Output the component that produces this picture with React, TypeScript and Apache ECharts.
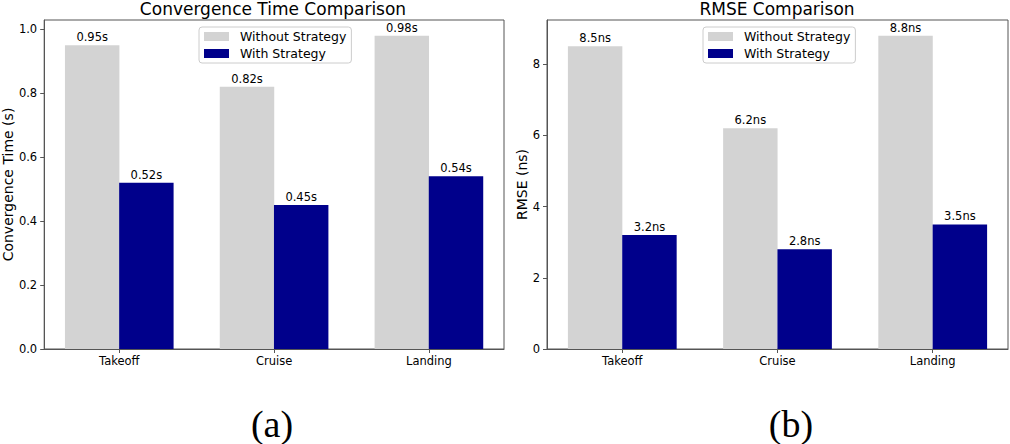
import React, { useEffect, useRef } from 'react';
import * as echarts from 'echarts';

const phases = ['Takeoff', 'Cruise', 'Landing'];
const seriesNames = ['Without Strategy', 'With Strategy'];

const convWithout = [0.95, 0.82, 0.98];
const convWith = [0.52, 0.45, 0.54];
const rmseWithout = [8.5, 6.2, 8.8];
const rmseWith = [3.2, 2.8, 3.5];

const convTicks = [0, 0.2, 0.4, 0.6, 0.8, 1.0];
const rmseTicks = [0, 2, 4, 6, 8];
const phasePositions = [0, 1, 2];

const GRAY = '#D3D3D3';
const BLUE = '#00008B';
const SPINE = '#555';
const FONT = 'DejaVu Sans';
const BAR = 0.35;
const X_MIN = -0.485;
const X_MAX = 2.485;

const App: React.FC = () => {
  const chartRef = useRef<HTMLDivElement>(null);

  useEffect(() => {
    document.body.style.margin = '0';
    if (!chartRef.current) return;
    const chart = echarts.init(chartRef.current, null, { renderer: 'svg' });

    const grids = [
      { left: 42, top: 20, width: 462, height: 329 },
      { left: 547, top: 20, width: 461, height: 329 }
    ];
    const barWidth = (462 * BAR) / (X_MAX - X_MIN);

    const xAxis = grids.map((_, i) => ({
      type: 'value',
      gridIndex: i,
      min: X_MIN,
      max: X_MAX,
      splitLine: { show: false },
      axisLine: { show: true, onZero: false, lineStyle: { color: SPINE, width: 1 } },
      axisTick: { show: true, length: 4, customValues: phasePositions, lineStyle: { color: SPINE } },
      axisLabel: {
        customValues: phasePositions,
        formatter: (v: number) => phases[Math.round(v)],
        color: '#000',
        fontFamily: FONT,
        fontSize: 11.5,
        margin: 6
      }
    }));

    const yCommon = {
      type: 'value',
      min: 0,
      nameLocation: 'middle',
      nameTextStyle: { color: '#000', fontFamily: FONT, fontSize: 14 },
      splitLine: { show: false },
      axisLine: { show: true, onZero: false, lineStyle: { color: SPINE, width: 1 } },
      axisTick: { show: true, length: 4, lineStyle: { color: SPINE } }
    };

    const yAxis = [
      {
        ...yCommon,
        gridIndex: 0,
        max: Math.max(...convWithout, ...convWith) * 1.05,
        name: 'Convergence Time (s)',
        nameGap: 28,
        axisTick: { ...yCommon.axisTick, customValues: convTicks },
        axisLabel: {
          customValues: convTicks,
          formatter: (v: number) => v.toFixed(1),
          color: '#000',
          fontFamily: FONT,
          fontSize: 11.5,
          margin: 7
        }
      },
      {
        ...yCommon,
        gridIndex: 1,
        max: Math.max(...rmseWithout, ...rmseWith) * 1.05,
        name: 'RMSE (ns)',
        nameGap: 17,
        axisTick: { ...yCommon.axisTick, customValues: rmseTicks },
        axisLabel: {
          customValues: rmseTicks,
          formatter: (v: number) => String(v),
          color: '#000',
          fontFamily: FONT,
          fontSize: 11.5,
          margin: 7
        }
      }
    ];

    const makeBar = (name: string, values: number[], offset: number, color: string, unit: string, gi: number) => ({
      name,
      type: 'bar',
      xAxisIndex: gi,
      yAxisIndex: gi,
      barWidth,
      barGap: '-100%',
      itemStyle: { color },
      data: values.map((v, i) => [i + offset, v]),
      label: {
        show: true,
        position: 'top',
        distance: 2,
        color: '#000',
        fontFamily: FONT,
        fontSize: 11.5,
        formatter: (p: any) => `${p.value[1]}${unit}`
      }
    });

    const legendBase = {
      orient: 'vertical',
      top: 27,
      padding: [3, 5, 3, 5],
      itemWidth: 25,
      itemHeight: 9,
      itemGap: 4,
      icon: 'rect',
      borderColor: '#ccc',
      borderWidth: 1,
      borderRadius: 3,
      backgroundColor: 'rgba(255,255,255,0.8)',
      data: seriesNames,
      textStyle: { color: '#000', fontFamily: FONT, fontSize: 12.5, padding: [0, 0, 0, 6] }
    };

    const titleStyle = { color: '#000', fontFamily: FONT, fontSize: 17, fontWeight: 'normal' };

    const option = {
      animation: false,
      backgroundColor: '#fff',
      title: [
        { text: 'Convergence Time Comparison', left: 273, top: 0, padding: 0, textAlign: 'center', textStyle: titleStyle },
        { text: 'RMSE Comparison', left: 777, top: 0, padding: 0, textAlign: 'center', textStyle: titleStyle }
      ],
      legend: [
        { ...legendBase, left: 199 },
        { ...legendBase, left: 703 }
      ],
      grid: grids.map((g) => ({ ...g, show: true, borderColor: SPINE, borderWidth: 1, backgroundColor: 'transparent' })),
      xAxis,
      yAxis,
      series: [
        makeBar(seriesNames[0], convWithout, -BAR / 2, GRAY, 's', 0),
        makeBar(seriesNames[1], convWith, BAR / 2, BLUE, 's', 0),
        makeBar(seriesNames[0], rmseWithout, -BAR / 2, GRAY, 'ns', 1),
        makeBar(seriesNames[1], rmseWith, BAR / 2, BLUE, 'ns', 1)
      ],
      graphic: [
        {
          type: 'text',
          x: 272,
          y: 424,
          style: { text: '(a)', font: '38px "Liberation Serif"', fill: '#000', textAlign: 'center', textVerticalAlign: 'middle' }
        },
        {
          type: 'text',
          x: 791,
          y: 424,
          style: { text: '(b)', font: '38px "Liberation Serif"', fill: '#000', textAlign: 'center', textVerticalAlign: 'middle' }
        }
      ]
    };

    chart.setOption(option);

    return () => {
      chart.dispose();
    };
  }, []);

  return <div ref={chartRef} style={{ width: '1010px', height: '444px' }} />;
};

export default App;
